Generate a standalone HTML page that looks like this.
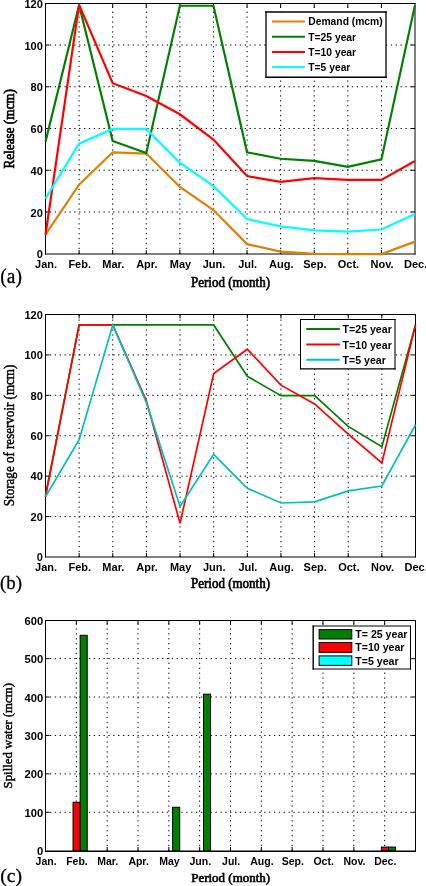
<!DOCTYPE html>
<html><head><meta charset="utf-8"><title>Reservoir release, storage and spill</title>
<style>html,body{margin:0;padding:0;background:#fff;}body{width:426px;height:886px;overflow:hidden;}svg{display:block;}</style>
</head><body>
<svg width="426" height="886" viewBox="0 0 426 886">
<rect width="426" height="886" fill="#fff"/>
<g stroke="#000" stroke-width="1" fill="none"><line x1="79.09" y1="254" x2="79.09" y2="3.5" stroke-dasharray="1.3 3.62"/><line x1="112.68" y1="254" x2="112.68" y2="3.5" stroke-dasharray="1.3 3.62"/><line x1="146.27" y1="254" x2="146.27" y2="3.5" stroke-dasharray="1.3 3.62"/><line x1="179.86" y1="254" x2="179.86" y2="3.5" stroke-dasharray="1.3 3.62"/><line x1="213.45" y1="254" x2="213.45" y2="3.5" stroke-dasharray="1.3 3.62"/><line x1="247.05" y1="254" x2="247.05" y2="3.5" stroke-dasharray="1.3 3.62"/><line x1="280.64" y1="254" x2="280.64" y2="3.5" stroke-dasharray="1.3 3.62"/><line x1="314.23" y1="254" x2="314.23" y2="3.5" stroke-dasharray="1.3 3.62"/><line x1="347.82" y1="254" x2="347.82" y2="3.5" stroke-dasharray="1.3 3.62"/><line x1="381.41" y1="254" x2="381.41" y2="3.5" stroke-dasharray="1.3 3.62"/><line x1="45.5" y1="212" x2="415" y2="212" stroke-dasharray="1.3 3.57" stroke-dashoffset="0.45"/><line x1="45.5" y1="170.25" x2="415" y2="170.25" stroke-dasharray="1.3 3.57" stroke-dashoffset="0.45"/><line x1="45.5" y1="128.5" x2="415" y2="128.5" stroke-dasharray="1.3 3.57" stroke-dashoffset="0.45"/><line x1="45.5" y1="86.75" x2="415" y2="86.75" stroke-dasharray="1.3 3.57" stroke-dashoffset="0.45"/><line x1="45.5" y1="45" x2="415" y2="45" stroke-dasharray="1.3 3.57" stroke-dashoffset="0.45"/></g>
<g stroke="#000" stroke-width="1" fill="none"><line x1="79.09" y1="254" x2="79.09" y2="250"/><line x1="79.09" y1="3.5" x2="79.09" y2="7.5"/><line x1="112.68" y1="254" x2="112.68" y2="250"/><line x1="112.68" y1="3.5" x2="112.68" y2="7.5"/><line x1="146.27" y1="254" x2="146.27" y2="250"/><line x1="146.27" y1="3.5" x2="146.27" y2="7.5"/><line x1="179.86" y1="254" x2="179.86" y2="250"/><line x1="179.86" y1="3.5" x2="179.86" y2="7.5"/><line x1="213.45" y1="254" x2="213.45" y2="250"/><line x1="213.45" y1="3.5" x2="213.45" y2="7.5"/><line x1="247.05" y1="254" x2="247.05" y2="250"/><line x1="247.05" y1="3.5" x2="247.05" y2="7.5"/><line x1="280.64" y1="254" x2="280.64" y2="250"/><line x1="280.64" y1="3.5" x2="280.64" y2="7.5"/><line x1="314.23" y1="254" x2="314.23" y2="250"/><line x1="314.23" y1="3.5" x2="314.23" y2="7.5"/><line x1="347.82" y1="254" x2="347.82" y2="250"/><line x1="347.82" y1="3.5" x2="347.82" y2="7.5"/><line x1="381.41" y1="254" x2="381.41" y2="250"/><line x1="381.41" y1="3.5" x2="381.41" y2="7.5"/><line x1="45.5" y1="212" x2="49.5" y2="212"/><line x1="415" y1="212" x2="411" y2="212"/><line x1="45.5" y1="170.25" x2="49.5" y2="170.25"/><line x1="415" y1="170.25" x2="411" y2="170.25"/><line x1="45.5" y1="128.5" x2="49.5" y2="128.5"/><line x1="415" y1="128.5" x2="411" y2="128.5"/><line x1="45.5" y1="86.75" x2="49.5" y2="86.75"/><line x1="415" y1="86.75" x2="411" y2="86.75"/><line x1="45.5" y1="45" x2="49.5" y2="45"/><line x1="415" y1="45" x2="411" y2="45"/></g>
<g stroke="#000" fill="none"><line x1="45" y1="3.5" x2="415.5" y2="3.5" stroke-width="1"/><line x1="45" y1="254" x2="415.5" y2="254" stroke-width="1"/><line x1="45.5" y1="3" x2="45.5" y2="254.5" stroke-width="1"/><line x1="415" y1="3" x2="415" y2="254.5" stroke-width="1"/></g>
<polyline points="45.5,234.53 79.09,184.64 112.68,152.28 146.27,153.53 179.86,186.93 213.45,210.1 247.05,244.13 280.64,251.65 314.23,253.73 347.82,254.15 381.41,254.15 415,241.62" fill="none" stroke="#E08000" stroke-width="2.2" stroke-linejoin="miter" stroke-miterlimit="3"/>
<polyline points="45.5,141.84 79.09,4.9 112.68,141.01 146.27,153.12 179.86,5.74 213.45,5.74 247.05,152.28 280.64,158.75 314.23,160.84 347.82,166.89 381.41,159.38 415,5.11" fill="none" stroke="#008000" stroke-width="2.2" stroke-linejoin="miter" stroke-miterlimit="3"/>
<polyline points="45.5,234.74 79.09,4.9 112.68,83.18 146.27,95.92 179.86,114.29 213.45,139.55 247.05,176.08 280.64,181.92 314.23,178.17 347.82,179.84 381.41,179.84 415,161.05" fill="none" stroke="#FF0000" stroke-width="2.2" stroke-linejoin="miter" stroke-miterlimit="3"/>
<polyline points="45.5,198.62 79.09,143.72 112.68,128.9 146.27,128.9 179.86,162.72 213.45,186.1 247.05,219.08 280.64,226.39 314.23,230.35 347.82,231.6 381.41,229.52 415,214.07" fill="none" stroke="#00FFFF" stroke-width="2.2" stroke-linejoin="miter" stroke-miterlimit="3"/>
<g font-family='"Liberation Sans", Arial, Helvetica, sans-serif' font-size="11" font-weight="bold" fill="#000"><text x="42.8" y="258.3" text-anchor="end">0</text><text x="42.8" y="216.55" text-anchor="end">20</text><text x="42.8" y="174.8" text-anchor="end">40</text><text x="42.8" y="133.05" text-anchor="end">60</text><text x="42.8" y="91.3" text-anchor="end">80</text><text x="42.8" y="49.55" text-anchor="end">100</text><text x="42.8" y="7.8" text-anchor="end">120</text><text x="46.1" y="267.9" text-anchor="middle">Jan.</text><text x="79.69" y="267.9" text-anchor="middle">Feb.</text><text x="113.28" y="267.9" text-anchor="middle">Mar.</text><text x="146.87" y="267.9" text-anchor="middle">Apr.</text><text x="180.46" y="267.9" text-anchor="middle">May</text><text x="214.05" y="267.9" text-anchor="middle">Jun.</text><text x="247.65" y="267.9" text-anchor="middle">Jul.</text><text x="281.24" y="267.9" text-anchor="middle">Aug.</text><text x="314.83" y="267.9" text-anchor="middle">Sep.</text><text x="348.42" y="267.9" text-anchor="middle">Oct.</text><text x="382.01" y="267.9" text-anchor="middle">Nov.</text><text x="415.6" y="267.9" text-anchor="middle">Dec.</text></g>
<g stroke="#000" stroke-width="1" fill="none"><line x1="79.14" y1="557" x2="79.14" y2="314.5" stroke-dasharray="1.3 3.62"/><line x1="112.77" y1="557" x2="112.77" y2="314.5" stroke-dasharray="1.3 3.62"/><line x1="146.41" y1="557" x2="146.41" y2="314.5" stroke-dasharray="1.3 3.62"/><line x1="180.05" y1="557" x2="180.05" y2="314.5" stroke-dasharray="1.3 3.62"/><line x1="213.68" y1="557" x2="213.68" y2="314.5" stroke-dasharray="1.3 3.62"/><line x1="247.32" y1="557" x2="247.32" y2="314.5" stroke-dasharray="1.3 3.62"/><line x1="280.95" y1="557" x2="280.95" y2="314.5" stroke-dasharray="1.3 3.62"/><line x1="314.59" y1="557" x2="314.59" y2="314.5" stroke-dasharray="1.3 3.62"/><line x1="348.23" y1="557" x2="348.23" y2="314.5" stroke-dasharray="1.3 3.62"/><line x1="381.86" y1="557" x2="381.86" y2="314.5" stroke-dasharray="1.3 3.62"/><line x1="45.5" y1="516.58" x2="415.5" y2="516.58" stroke-dasharray="1.3 3.57" stroke-dashoffset="0.45"/><line x1="45.5" y1="476.17" x2="415.5" y2="476.17" stroke-dasharray="1.3 3.57" stroke-dashoffset="0.45"/><line x1="45.5" y1="435.75" x2="415.5" y2="435.75" stroke-dasharray="1.3 3.57" stroke-dashoffset="0.45"/><line x1="45.5" y1="395.33" x2="415.5" y2="395.33" stroke-dasharray="1.3 3.57" stroke-dashoffset="0.45"/><line x1="45.5" y1="354.92" x2="415.5" y2="354.92" stroke-dasharray="1.3 3.57" stroke-dashoffset="0.45"/></g>
<g stroke="#000" stroke-width="1" fill="none"><line x1="79.14" y1="557" x2="79.14" y2="553"/><line x1="79.14" y1="314.5" x2="79.14" y2="318.5"/><line x1="112.77" y1="557" x2="112.77" y2="553"/><line x1="112.77" y1="314.5" x2="112.77" y2="318.5"/><line x1="146.41" y1="557" x2="146.41" y2="553"/><line x1="146.41" y1="314.5" x2="146.41" y2="318.5"/><line x1="180.05" y1="557" x2="180.05" y2="553"/><line x1="180.05" y1="314.5" x2="180.05" y2="318.5"/><line x1="213.68" y1="557" x2="213.68" y2="553"/><line x1="213.68" y1="314.5" x2="213.68" y2="318.5"/><line x1="247.32" y1="557" x2="247.32" y2="553"/><line x1="247.32" y1="314.5" x2="247.32" y2="318.5"/><line x1="280.95" y1="557" x2="280.95" y2="553"/><line x1="280.95" y1="314.5" x2="280.95" y2="318.5"/><line x1="314.59" y1="557" x2="314.59" y2="553"/><line x1="314.59" y1="314.5" x2="314.59" y2="318.5"/><line x1="348.23" y1="557" x2="348.23" y2="553"/><line x1="348.23" y1="314.5" x2="348.23" y2="318.5"/><line x1="381.86" y1="557" x2="381.86" y2="553"/><line x1="381.86" y1="314.5" x2="381.86" y2="318.5"/><line x1="45.5" y1="516.58" x2="49.5" y2="516.58"/><line x1="415.5" y1="516.58" x2="411.5" y2="516.58"/><line x1="45.5" y1="476.17" x2="49.5" y2="476.17"/><line x1="415.5" y1="476.17" x2="411.5" y2="476.17"/><line x1="45.5" y1="435.75" x2="49.5" y2="435.75"/><line x1="415.5" y1="435.75" x2="411.5" y2="435.75"/><line x1="45.5" y1="395.33" x2="49.5" y2="395.33"/><line x1="415.5" y1="395.33" x2="411.5" y2="395.33"/><line x1="45.5" y1="354.92" x2="49.5" y2="354.92"/><line x1="415.5" y1="354.92" x2="411.5" y2="354.92"/></g>
<g stroke="#000" fill="none"><line x1="45" y1="314.5" x2="416" y2="314.5" stroke-width="1"/><line x1="45" y1="557" x2="416" y2="557" stroke-width="1"/><line x1="45.5" y1="314" x2="45.5" y2="557.5" stroke-width="1"/><line x1="415.5" y1="314" x2="415.5" y2="557.5" stroke-width="1"/></g>
<polyline points="45.5,495.11 79.14,324.95 112.77,324.95 146.41,324.95 180.05,324.95 213.68,324.95 247.32,376.28 280.95,395.68 314.59,395.68 348.23,426.4 381.86,446.81 415.5,324.95" fill="none" stroke="#008000" stroke-width="1.7" stroke-linejoin="miter" stroke-miterlimit="3"/>
<polyline points="45.5,496.93 79.14,324.95 112.77,324.95 146.41,400.74 180.05,523.4 213.68,373.45 247.32,349.2 280.95,385.18 314.59,403.97 348.23,434.08 381.86,462.98 415.5,324.95" fill="none" stroke="#FF0000" stroke-width="1.7" stroke-linejoin="miter" stroke-miterlimit="3"/>
<polyline points="45.5,496.73 79.14,439.74 112.77,324.95 146.41,402.76 180.05,506.43 213.68,454.29 247.32,488.24 280.95,502.99 314.59,501.78 348.23,490.86 381.86,486.01 415.5,424.78" fill="none" stroke="#00BFBF" stroke-width="1.7" stroke-linejoin="miter" stroke-miterlimit="3"/>
<g font-family='"Liberation Sans", Arial, Helvetica, sans-serif' font-size="11" font-weight="bold" fill="#000"><text x="42.8" y="561.3" text-anchor="end">0</text><text x="42.8" y="520.88" text-anchor="end">20</text><text x="42.8" y="480.47" text-anchor="end">40</text><text x="42.8" y="440.05" text-anchor="end">60</text><text x="42.8" y="399.63" text-anchor="end">80</text><text x="42.8" y="359.22" text-anchor="end">100</text><text x="42.8" y="318.8" text-anchor="end">120</text><text x="46.1" y="570.9" text-anchor="middle">Jan.</text><text x="79.74" y="570.9" text-anchor="middle">Feb.</text><text x="113.37" y="570.9" text-anchor="middle">Mar.</text><text x="147.01" y="570.9" text-anchor="middle">Apr.</text><text x="180.65" y="570.9" text-anchor="middle">May</text><text x="214.28" y="570.9" text-anchor="middle">Jun.</text><text x="247.92" y="570.9" text-anchor="middle">Jul.</text><text x="281.55" y="570.9" text-anchor="middle">Aug.</text><text x="315.19" y="570.9" text-anchor="middle">Sep.</text><text x="348.83" y="570.9" text-anchor="middle">Oct.</text><text x="382.46" y="570.9" text-anchor="middle">Nov.</text><text x="416.1" y="570.9" text-anchor="middle">Dec.</text></g>
<g stroke="#000" stroke-width="1" fill="none"><line x1="76.33" y1="851" x2="76.33" y2="620.5" stroke-dasharray="1.3 3.62"/><line x1="107.17" y1="851" x2="107.17" y2="620.5" stroke-dasharray="1.3 3.62"/><line x1="138" y1="851" x2="138" y2="620.5" stroke-dasharray="1.3 3.62"/><line x1="168.83" y1="851" x2="168.83" y2="620.5" stroke-dasharray="1.3 3.62"/><line x1="199.67" y1="851" x2="199.67" y2="620.5" stroke-dasharray="1.3 3.62"/><line x1="230.5" y1="851" x2="230.5" y2="620.5" stroke-dasharray="1.3 3.62"/><line x1="261.33" y1="851" x2="261.33" y2="620.5" stroke-dasharray="1.3 3.62"/><line x1="292.17" y1="851" x2="292.17" y2="620.5" stroke-dasharray="1.3 3.62"/><line x1="323" y1="851" x2="323" y2="620.5" stroke-dasharray="1.3 3.62"/><line x1="353.83" y1="851" x2="353.83" y2="620.5" stroke-dasharray="1.3 3.62"/><line x1="384.67" y1="851" x2="384.67" y2="620.5" stroke-dasharray="1.3 3.62"/><line x1="45.5" y1="812.28" x2="415.5" y2="812.28" stroke-dasharray="1.3 3.57" stroke-dashoffset="0.45"/><line x1="45.5" y1="773.87" x2="415.5" y2="773.87" stroke-dasharray="1.3 3.57" stroke-dashoffset="0.45"/><line x1="45.5" y1="735.45" x2="415.5" y2="735.45" stroke-dasharray="1.3 3.57" stroke-dashoffset="0.45"/><line x1="45.5" y1="697.03" x2="415.5" y2="697.03" stroke-dasharray="1.3 3.57" stroke-dashoffset="0.45"/><line x1="45.5" y1="658.62" x2="415.5" y2="658.62" stroke-dasharray="1.3 3.57" stroke-dashoffset="0.45"/></g>
<g stroke="#000" stroke-width="1" fill="none"><line x1="76.33" y1="851" x2="76.33" y2="847"/><line x1="76.33" y1="620.5" x2="76.33" y2="624.5"/><line x1="107.17" y1="851" x2="107.17" y2="847"/><line x1="107.17" y1="620.5" x2="107.17" y2="624.5"/><line x1="138" y1="851" x2="138" y2="847"/><line x1="138" y1="620.5" x2="138" y2="624.5"/><line x1="168.83" y1="851" x2="168.83" y2="847"/><line x1="168.83" y1="620.5" x2="168.83" y2="624.5"/><line x1="199.67" y1="851" x2="199.67" y2="847"/><line x1="199.67" y1="620.5" x2="199.67" y2="624.5"/><line x1="230.5" y1="851" x2="230.5" y2="847"/><line x1="230.5" y1="620.5" x2="230.5" y2="624.5"/><line x1="261.33" y1="851" x2="261.33" y2="847"/><line x1="261.33" y1="620.5" x2="261.33" y2="624.5"/><line x1="292.17" y1="851" x2="292.17" y2="847"/><line x1="292.17" y1="620.5" x2="292.17" y2="624.5"/><line x1="323" y1="851" x2="323" y2="847"/><line x1="323" y1="620.5" x2="323" y2="624.5"/><line x1="353.83" y1="851" x2="353.83" y2="847"/><line x1="353.83" y1="620.5" x2="353.83" y2="624.5"/><line x1="384.67" y1="851" x2="384.67" y2="847"/><line x1="384.67" y1="620.5" x2="384.67" y2="624.5"/><line x1="45.5" y1="812.28" x2="49.5" y2="812.28"/><line x1="415.5" y1="812.28" x2="411.5" y2="812.28"/><line x1="45.5" y1="773.87" x2="49.5" y2="773.87"/><line x1="415.5" y1="773.87" x2="411.5" y2="773.87"/><line x1="45.5" y1="735.45" x2="49.5" y2="735.45"/><line x1="415.5" y1="735.45" x2="411.5" y2="735.45"/><line x1="45.5" y1="697.03" x2="49.5" y2="697.03"/><line x1="415.5" y1="697.03" x2="411.5" y2="697.03"/><line x1="45.5" y1="658.62" x2="49.5" y2="658.62"/><line x1="415.5" y1="658.62" x2="411.5" y2="658.62"/></g>
<g stroke="#000" stroke-width="1"><rect x="73.03" y="802.29" width="7.1" height="48.71" fill="#FF0000"/><rect x="381.37" y="847.08" width="7.1" height="3.92" fill="#FF0000"/><rect x="80.13" y="635.29" width="7.1" height="215.71" fill="#008000"/><rect x="172.63" y="807.28" width="7.1" height="43.72" fill="#008000"/><rect x="203.47" y="694.18" width="7.1" height="156.82" fill="#008000"/><rect x="388.47" y="847.08" width="7.1" height="3.92" fill="#008000"/></g>
<g stroke="#000" fill="none"><line x1="45" y1="620.5" x2="416" y2="620.5" stroke-width="1"/><line x1="45" y1="851.3" x2="416" y2="851.3" stroke-width="1.4"/><line x1="45.5" y1="620" x2="45.5" y2="851.5" stroke-width="1"/><line x1="415.5" y1="620" x2="415.5" y2="851.5" stroke-width="1"/></g>
<g font-family='"Liberation Sans", Arial, Helvetica, sans-serif' font-size="10.5" font-weight="bold" fill="#000"><text x="43.2" y="855.3" text-anchor="end" font-size="11.2">0</text><text x="43.2" y="816.88" text-anchor="end" font-size="11.2">100</text><text x="43.2" y="778.47" text-anchor="end" font-size="11.2">200</text><text x="43.2" y="740.05" text-anchor="end" font-size="11.2">300</text><text x="43.2" y="701.63" text-anchor="end" font-size="11.2">400</text><text x="43.2" y="663.22" text-anchor="end" font-size="11.2">500</text><text x="43.2" y="624.8" text-anchor="end" font-size="11.2">600</text><text x="46.1" y="864.6" text-anchor="middle">Jan.</text><text x="76.93" y="864.6" text-anchor="middle">Feb.</text><text x="107.77" y="864.6" text-anchor="middle">Mar.</text><text x="138.6" y="864.6" text-anchor="middle">Apr.</text><text x="169.43" y="864.6" text-anchor="middle">May</text><text x="200.27" y="864.6" text-anchor="middle">Jun.</text><text x="231.1" y="864.6" text-anchor="middle">Jul.</text><text x="261.93" y="864.6" text-anchor="middle">Aug.</text><text x="292.77" y="864.6" text-anchor="middle">Sep.</text><text x="323.6" y="864.6" text-anchor="middle">Oct.</text><text x="354.43" y="864.6" text-anchor="middle">Nov.</text><text x="385.27" y="864.6" text-anchor="middle">Dec.</text></g>
<rect x="266" y="12" width="120" height="65.2" fill="#fff"/><g stroke="#000" fill="none"><line x1="265.35" y1="12" x2="386.65" y2="12" stroke-width="1.3"/><line x1="265.35" y1="77.2" x2="386.65" y2="77.2" stroke-width="1.4"/><line x1="266" y1="11.35" x2="266" y2="77.9" stroke-width="1.3"/><line x1="386" y1="11.35" x2="386" y2="77.9" stroke-width="1.3"/></g><line x1="272" y1="21.6" x2="305" y2="21.6" stroke="#E08000" stroke-width="2"/><text x="308.3" y="25.3" font-family='"Liberation Sans", Arial, Helvetica, sans-serif' font-size="10.3" font-weight="bold">Demand (mcm)</text><line x1="272" y1="36.8" x2="305" y2="36.8" stroke="#008000" stroke-width="2"/><text x="308.3" y="40.5" font-family='"Liberation Sans", Arial, Helvetica, sans-serif' font-size="10.3" font-weight="bold">T=25 year</text><line x1="272" y1="52" x2="305" y2="52" stroke="#FF0000" stroke-width="2"/><text x="308.3" y="55.7" font-family='"Liberation Sans", Arial, Helvetica, sans-serif' font-size="10.3" font-weight="bold">T=10 year</text><line x1="272" y1="67.1" x2="305" y2="67.1" stroke="#00FFFF" stroke-width="2"/><text x="308.3" y="70.8" font-family='"Liberation Sans", Arial, Helvetica, sans-serif' font-size="10.3" font-weight="bold">T=5 year</text>
<rect x="300.5" y="319.5" width="94.5" height="49.3" fill="#fff"/><g stroke="#000" fill="none"><line x1="300" y1="319.5" x2="395.55" y2="319.5" stroke-width="1"/><line x1="300" y1="368.8" x2="395.55" y2="368.8" stroke-width="1.2"/><line x1="300.5" y1="319" x2="300.5" y2="369.4" stroke-width="1"/><line x1="395" y1="319" x2="395" y2="369.4" stroke-width="1.1"/></g><line x1="306.3" y1="329.1" x2="339.8" y2="329.1" stroke="#008000" stroke-width="2"/><text x="342.6" y="333" font-family='"Liberation Sans", Arial, Helvetica, sans-serif' font-size="10.6" font-weight="bold">T=25 year</text><line x1="306.3" y1="344.6" x2="339.8" y2="344.6" stroke="#FF0000" stroke-width="2"/><text x="342.6" y="348.5" font-family='"Liberation Sans", Arial, Helvetica, sans-serif' font-size="10.6" font-weight="bold">T=10 year</text><line x1="306.3" y1="359.8" x2="339.8" y2="359.8" stroke="#00BFBF" stroke-width="2"/><text x="342.6" y="363.7" font-family='"Liberation Sans", Arial, Helvetica, sans-serif' font-size="10.6" font-weight="bold">T=5 year</text>
<rect x="313.2" y="626" width="97.3" height="43" fill="#fff"/><g stroke="#000" fill="none"><line x1="312.5" y1="626" x2="411" y2="626" stroke-width="1"/><line x1="312.5" y1="669" x2="411" y2="669" stroke-width="1"/><line x1="313.2" y1="625.5" x2="313.2" y2="669.5" stroke-width="1.4"/><line x1="410.5" y1="625.5" x2="410.5" y2="669.5" stroke-width="1"/></g><rect x="319.1" y="629.6" width="32.7" height="9.4" fill="#008000" stroke="#000" stroke-width="1"/><text x="355.3" y="638.3" font-family='"Liberation Sans", Arial, Helvetica, sans-serif' font-size="10.6" font-weight="bold">T= 25 year</text><rect x="319.1" y="642.5" width="32.7" height="9.9" fill="#FF0000" stroke="#000" stroke-width="1"/><text x="355.3" y="651.45" font-family='"Liberation Sans", Arial, Helvetica, sans-serif' font-size="10.6" font-weight="bold">T=10 year</text><rect x="319.1" y="655.9" width="32.7" height="9.5" fill="#00FFFF" stroke="#000" stroke-width="1"/><text x="355.3" y="664.65" font-family='"Liberation Sans", Arial, Helvetica, sans-serif' font-size="10.6" font-weight="bold">T=5 year</text>
<text stroke="#000" stroke-width="0.7" transform="translate(14,128.8) rotate(-90)" text-anchor="middle" font-family='"Liberation Serif", "Times New Roman", serif' font-size="13.9" font-weight="normal" textLength="79.5" lengthAdjust="spacingAndGlyphs">Release (mcm)</text>
<text stroke="#000" stroke-width="0.45" transform="translate(13.8,435.4) rotate(-90)" text-anchor="middle" font-family='"Liberation Serif", "Times New Roman", serif' font-size="13.9" font-weight="normal" textLength="141.5" lengthAdjust="spacingAndGlyphs">Storage of reservoir (mcm)</text>
<text stroke="#000" stroke-width="0.45" transform="translate(12.1,735.7) rotate(-90)" text-anchor="middle" font-family='"Liberation Serif", "Times New Roman", serif' font-size="13.2" font-weight="normal" textLength="105.5" lengthAdjust="spacingAndGlyphs">Spilled water (mcm)</text>
<text stroke="#000" stroke-width="0.65" x="191" y="286.8" text-anchor="start" font-family='"Liberation Serif", "Times New Roman", serif' font-size="14.0" font-weight="normal" textLength="79" lengthAdjust="spacingAndGlyphs">Period (month)</text>
<text stroke="#000" stroke-width="0.65" x="191" y="588" text-anchor="start" font-family='"Liberation Serif", "Times New Roman", serif' font-size="13.8" font-weight="normal" textLength="79" lengthAdjust="spacingAndGlyphs">Period (month)</text>
<text stroke="#000" stroke-width="0.6" x="191.2" y="882.4" text-anchor="start" font-family='"Liberation Serif", "Times New Roman", serif' font-size="12.6" font-weight="normal" textLength="79" lengthAdjust="spacingAndGlyphs">Period (month)</text>
<text x="0.3" y="282.7" font-family='"Liberation Serif", "Times New Roman", serif' font-size="20.8" stroke="#000" stroke-width="0.3" textLength="21.6" lengthAdjust="spacingAndGlyphs">(a)</text>
<text x="0.1" y="588.5" font-family='"Liberation Serif", "Times New Roman", serif' font-size="19.6" stroke="#000" stroke-width="0.3" textLength="22" lengthAdjust="spacingAndGlyphs">(b)</text>
<text x="0.3" y="881.6" font-family='"Liberation Serif", "Times New Roman", serif' font-size="19.6" stroke="#000" stroke-width="0.3" textLength="21.8" lengthAdjust="spacingAndGlyphs">(c)</text>
</svg>
</body></html>
